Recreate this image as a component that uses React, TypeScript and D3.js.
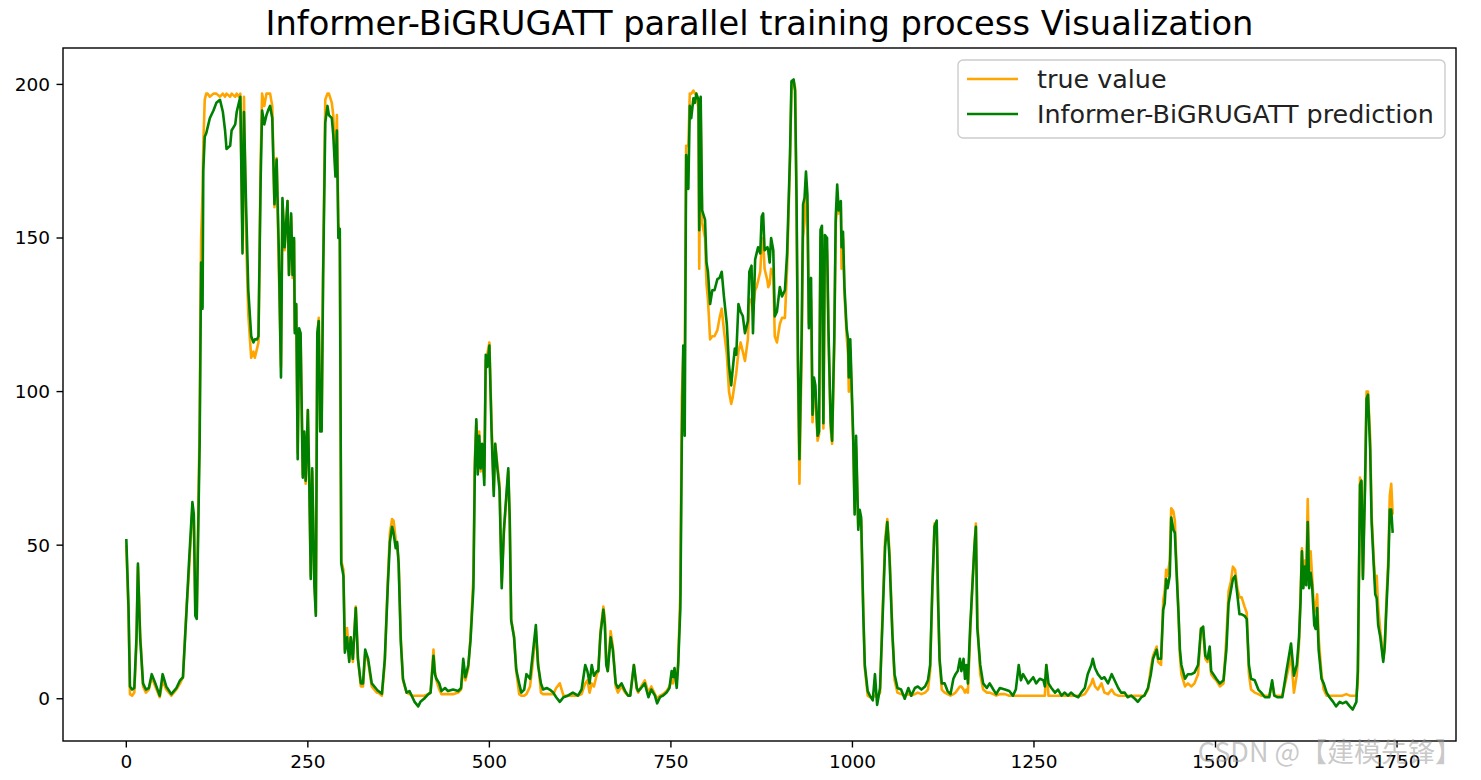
import React from "react";
import * as d3 from "d3";

// ---------- data ----------
const sampleIndex = [
  0, 3, 5, 8, 11, 14, 16, 19, 23, 27,
  31, 35, 40, 46, 50, 55, 62, 69, 74, 78,
  83, 86, 91, 93, 95, 97, 101, 103, 105, 106,
  108, 110, 112, 115, 120, 124, 129, 133, 136, 138,
  143, 145, 150, 152, 155, 157, 160, 162, 165, 168,
  172, 175, 177, 180, 182, 185, 187, 190, 193, 196,
  198, 201, 204, 207, 210, 213, 215, 218, 222, 224,
  227, 229, 231, 232, 234, 236, 238, 240, 243, 245,
  247, 250, 252, 254, 256, 259, 261, 263, 265, 267,
  269, 271, 274, 277, 279, 283, 285, 288, 290, 292,
  294, 296, 299, 301, 304, 307, 309, 312, 316, 319,
  323, 326, 329, 333, 338, 345, 347, 352, 356, 360,
  363, 366, 368, 371, 373, 375, 378, 381, 386, 390,
  394, 397, 402, 405, 410, 416, 419, 423, 425, 427,
  431, 434, 439, 443, 450, 457, 461, 464, 467, 471,
  474, 478, 480, 482, 484, 486, 488, 490, 493, 495,
  497, 500, 503, 506, 508, 511, 514, 517, 520, 526,
  528, 530, 534, 537, 541, 544, 548, 551, 556, 559,
  564, 567, 571, 574, 579, 583, 588, 592, 597, 602,
  608, 615, 622, 627, 632, 635, 638, 641, 644, 648,
  650, 653, 657, 659, 661, 663, 667, 670, 674, 677,
  682, 687, 691, 694, 699, 703, 705, 709, 714, 719,
  723, 728, 731, 735, 739, 744, 748, 751, 753, 755,
  758, 760, 763, 765, 767, 769, 771, 774, 776, 778,
  781, 783, 785, 788, 789, 791, 793, 797, 799, 801,
  804, 807, 810, 814, 817, 820, 823, 827, 830, 833,
  835, 838, 840, 843, 846, 849, 852, 856, 858, 861,
  863, 866, 868, 870, 873, 875, 877, 879, 883, 884,
  886, 888, 891, 893, 896, 900, 903, 907, 910, 914,
  916, 919, 921, 923, 925, 927, 930, 932, 934, 936,
  938, 940, 941, 943, 945, 947, 949, 952, 954, 956,
  958, 960, 962, 965, 967, 970, 972, 975, 977, 979,
  981, 984, 985, 987, 989, 992, 994, 995, 997, 1001,
  1003, 1005, 1008, 1010, 1012, 1015, 1017, 1021, 1024, 1028,
  1031, 1034, 1038, 1041, 1045, 1048, 1051, 1055, 1058, 1062,
  1067, 1072, 1077, 1081, 1086, 1090, 1095, 1100, 1104, 1107,
  1110, 1113, 1116, 1118, 1120, 1123, 1127, 1131, 1135, 1139,
  1142, 1145, 1148, 1150, 1153, 1155, 1157, 1159, 1162, 1165,
  1168, 1170, 1172, 1176, 1180, 1185, 1189, 1194, 1198, 1203,
  1210, 1216, 1221, 1225, 1229, 1232, 1235, 1240, 1242, 1249,
  1253, 1258, 1263, 1265, 1267, 1270, 1274, 1279, 1283, 1288,
  1292, 1297, 1301, 1306, 1311, 1315, 1320, 1324, 1329, 1331,
  1334, 1338, 1343, 1347, 1352, 1357, 1361, 1366, 1370, 1375,
  1379, 1384, 1389, 1393, 1398, 1402, 1407, 1411, 1414, 1419,
  1421, 1425, 1428, 1430, 1432, 1434, 1437, 1439, 1442, 1444,
  1446, 1449, 1451, 1453, 1458, 1462, 1467, 1471, 1476, 1480,
  1483, 1486, 1489, 1492, 1494, 1497, 1501, 1506, 1511, 1515,
  1518, 1521, 1524, 1527, 1530, 1533, 1536, 1540, 1543, 1546,
  1549, 1554, 1559, 1563, 1568, 1574, 1578, 1581, 1585, 1592,
  1597, 1604, 1608, 1612, 1615, 1617, 1619, 1621, 1623, 1625,
  1627, 1629, 1631, 1633, 1636, 1638, 1640, 1642, 1646, 1649,
  1653, 1657, 1662, 1666, 1671, 1675, 1680, 1685, 1689, 1694,
  1696, 1699, 1701, 1703, 1706, 1708, 1710, 1713, 1715, 1718,
  1720, 1722, 1724, 1727, 1729, 1731, 1733, 1735, 1738, 1740,
  1742, 1744,
];

const trueValue = [
  50, 28, 1.5, 1, 2, 18, 43, 22, 4, 2,
  3, 7, 4, 0.5, 6, 3, 1, 3, 5, 7,
  30, 40, 62, 58, 30, 28, 90, 150, 165, 180,
  195, 197, 197, 196, 197, 197, 196, 197, 196, 197,
  196, 197, 196, 197, 196, 197, 150, 196, 150, 125,
  111, 113, 111, 114, 116, 175, 197, 193, 197, 197,
  197, 193, 160, 176, 140, 108, 162, 146, 162, 138,
  157, 137, 149, 120, 128, 80, 120, 118, 73, 86,
  70, 94, 68, 40, 74, 38, 28, 118, 124, 88,
  90, 140, 195, 197, 197, 194, 190, 172, 190, 155,
  150, 45, 42, 16, 23, 13, 20, 12, 30, 13,
  4, 4, 15, 12, 4, 2, 2, 1, 12, 38,
  54, 58.5, 58, 52, 50, 45, 20, 6, 2, 1.5,
  1, 1, 1, 1, 1, 1.5, 2, 16, 9, 6,
  3, 1.5, 1.5, 1.5, 1.5, 2, 3, 10, 6, 10,
  20, 40, 78, 90, 75, 87, 74, 82, 72, 110,
  112, 116, 90, 68, 83, 76, 70, 38, 54, 74,
  58, 26, 20, 9, 1.5, 1, 1, 1.5, 4, 10,
  22, 12, 2, 1.5, 1.5, 1.5, 1.5, 3.5, 5, 1,
  1, 1, 1, 1.5, 5, 6, 2, 5, 4, 8,
  9, 22, 30, 26, 12, 9, 22, 17, 4, 2,
  4, 2, 1, 1, 11, 3, 2, 4, 6, 2,
  4, 1.5, 0, 1, 1.5, 2.5, 4, 6, 5, 8,
  6, 12, 35, 98, 112, 110, 180, 180, 197, 197,
  198, 197, 197, 192, 140, 190, 155, 150, 135, 130,
  117, 118, 118, 120, 124, 127, 120, 112, 100, 96,
  98, 103, 106, 113, 116, 113, 110, 117, 130, 130,
  126, 133, 134, 136, 139, 148, 150, 140, 136, 134,
  135, 140, 138, 118, 116, 122, 124, 124, 140, 175,
  198, 201, 199, 160, 105, 70, 112, 150, 155, 165,
  160, 122, 125, 130, 90, 100, 98, 84, 86, 150,
  152, 88, 145, 146, 118, 88, 83, 115, 155, 160,
  158, 160, 140, 150, 132, 118, 112, 100, 114, 84,
  62, 82, 56, 60, 58, 28, 10, 1, 0.5, 0.5,
  1, 0.5, 2, 25, 52, 58.5, 48, 22, 6, 2,
  1.5, 1, 1.5, 1, 1.5, 2, 1.5, 2, 3, 9,
  35, 57, 57, 30, 12, 3, 2, 1.5, 1, 1.5,
  2, 3, 4, 4, 3, 2, 3, 2, 20, 36,
  50, 57, 25, 8, 3, 2, 2, 1.5, 1, 1.5,
  1.5, 1, 1, 1, 1, 1, 1, 1, 1, 1,
  1, 1, 1, 1, 11, 1, 1, 1, 1, 1,
  1, 1, 1, 1, 1, 1, 1.5, 3, 5, 6.5,
  4, 3, 5, 2, 1.5, 3, 1.5, 1, 1, 1,
  1, 1, 1, 1, 1, 1, 3, 10, 14, 17,
  12, 11, 32, 35, 42, 40, 45, 62, 61, 58,
  45, 28, 14, 8, 4, 5, 4, 5, 8, 23,
  22, 13, 12, 16, 8, 7, 6, 4, 5, 20,
  35, 38, 43, 42, 36, 33, 33, 30, 28, 8,
  3, 2, 1.5, 1, 1, 1, 5, 1, 1, 1,
  6, 14, 2, 8, 18, 33, 49, 38, 45, 40,
  65, 42, 48, 40, 28, 30, 34, 20, 8, 3,
  1, 1, 1, 1, 1, 1, 1.5, 1, 1, 1,
  5, 72, 70, 40, 72, 100, 100, 85, 60, 45,
  38, 40, 30, 22, 18, 13, 16, 30, 46, 66,
  70, 60,
];

const prediction = [
  52, 30, 4, 3, 3.5, 20, 44, 20, 5, 3,
  3.5, 8, 5, 1, 8, 4, 1.5, 3.5, 6, 7,
  29, 43, 64, 60, 27, 26, 83, 142, 127, 172,
  183, 184, 186, 189, 191.5, 194, 195, 191, 185, 179,
  180, 185, 187, 191, 194, 196, 145, 191, 160, 133,
  118, 116, 117, 117, 118, 169, 191.5, 187, 190, 192,
  193, 189, 161, 175.5, 146, 104.6, 163, 147, 162, 138,
  158, 138, 150, 119, 128.5, 78, 120.6, 119, 72, 87,
  71, 94, 70, 39, 75, 37, 27, 119, 123, 87,
  87, 136.6, 187.6, 193, 190, 189, 183.5, 170, 185, 150,
  153, 44, 40, 15, 20, 12, 20, 13, 29.5, 13,
  5, 5, 16, 13, 5, 3, 2.5, 1.6, 13, 36,
  51, 56, 54, 49, 51, 44, 18.6, 6.5, 2, 2.5,
  0.5, -1, -2.5, -1, 0, 1.5, 2, 14, 8, 6.5,
  5, 2.5, 3.5, 2.5, 3, 2.5, 3.5, 13, 7, 11,
  19, 36, 75, 91, 73, 85.6, 75, 83, 69.6, 112,
  108, 115, 87, 66, 83, 75, 68, 36, 55, 75,
  59, 25.5, 20, 9.5, 5, 2, 3, 8, 6.5, 13,
  24, 11, 5, 3, 3.5, 3, 2, 0.5, -1, 0.5,
  1, 2, 1, 3, 11, 9, 5, 11, 7.5, 9,
  9, 21, 29, 24, 11, 9, 20, 16, 5, 3.5,
  5, 2.5, 1, 1, 11, 3.5, 2.5, 3.5, 5, 0.5,
  3, 1, -1.5, 0.5, 1, 2, 3.5, 9, 7, 10,
  3.5, 11, 29.5, 83, 115, 85.6, 177, 166, 193, 189,
  195.5, 194, 197, 195, 152.5, 196, 159, 156, 142, 139,
  128.5, 133, 133, 136.6, 137, 139, 131, 122, 108.5, 102,
  107, 114, 112, 128.5, 126, 124.6, 119, 123, 139, 141,
  119, 143, 145, 147, 145, 157, 158, 146, 147, 146,
  142, 150, 146, 124.5, 126, 134, 131, 133, 145, 177,
  201, 201.6, 198, 163, 110, 78, 118, 161, 163, 171.6,
  164, 120.6, 135, 137, 92.5, 104.6, 102, 85.6, 87, 152.6,
  154, 89.7, 151, 150, 120, 90, 84, 118, 157, 167.4,
  159, 162, 147, 152, 134, 120.6, 117, 104.6, 117, 85.6,
  60, 85.6, 55, 61.5, 59, 27, 11, 2.5, 1, -0.5,
  8, -2, 3.5, 22.7, 49.5, 57.5, 46, 21, 8, 3.5,
  3, 0, 3.5, 1, 3.5, 4, 3, 4, 6, 11,
  36, 56, 58, 32, 13, 5, 5, 2.5, 1.5, 6.5,
  8, 9, 13, 9, 13, 6.5, 11, 5, 22.7, 36,
  49.5, 56, 23, 11, 5, 3.5, 5, 3, 1.5, 3.5,
  3, 2.5, 1, 3, 11, 6, 8, 6, 5, 7,
  5, 6.5, 6, 4, 11, 5, 3.5, 2, 3, 1,
  2, 1, 2, 1, 0.5, 2, 3.5, 8, 11, 13,
  10, 8, 6.5, 7, 5, 8, 6, 3.5, 2, 2,
  0.5, 1, 0, -1, 0.5, 1, 3.5, 8, 13, 16,
  13, 13, 29, 31, 39, 36, 40, 59, 55, 54,
  43, 28, 16, 11, 6.5, 8, 8, 8.5, 11, 22.7,
  23.5, 14, 13, 17, 9, 8, 6.5, 5, 6, 16,
  31, 35, 39, 40, 34, 27.5, 27.5, 27, 26, 11,
  6.5, 6, 3, 2, 0.5, 0.5, 6, 1, 0.5, 0.5,
  8, 18, 7.5, 11, 20, 31, 48, 36, 43, 37,
  57.5, 36, 41, 37, 24, 22.7, 29.5, 16, 6.5, 5,
  2, 0.5, -1, -2.5, -1, -1.5, -1, -2.5, -3.5, -1,
  9, 69.6, 71, 39, 69.6, 97.7, 99, 81, 57.5, 43,
  34, 32.7, 24, 20, 16, 12, 17, 27.5, 43, 61.6,
  61.6, 54,
];

const xTicks = [0, 250, 500, 750, 1000, 1250, 1500, 1750];
const yTicks = [0, 50, 100, 150, 200];
const seriesNames = ["true value", "Informer-BiGRUGATT prediction"];
const seriesColors = ["orange", "green"];
const titleText = "Informer-BiGRUGATT parallel training process Visualization";
const watermarkText = "CSDN @【建模先锋】";

// ---------- layout ----------
const W = 1481;
const H = 780;
const AX = { left: 63, right: 1456, top: 48, bottom: 741 };
const FONT = "'DejaVu Sans', sans-serif";
const TICK_FS = 18.5;
const LEGEND_FS = 25.4;

export default function App() {
  const [xmin, xmax] = d3.extent(sampleIndex) as [number, number];
  const xPad = (xmax - xmin) * 0.05;
  const x = d3.scaleLinear().domain([xmin - xPad, xmax + xPad]).range([AX.left, AX.right]);

  const allVals = trueValue.concat(prediction);
  const [ymin, ymax] = d3.extent(allVals) as [number, number];
  const yPad = (ymax - ymin) * 0.05;
  const y = d3.scaleLinear().domain([ymin - yPad, ymax + yPad]).range([AX.bottom, AX.top]);

  const mkLine = (vals: number[]) =>
    d3
      .line<number>()
      .x((_, i) => x(sampleIndex[i]))
      .y((d) => y(d))(vals) as string;

  const series = [trueValue, prediction];

  const lgX = 958;
  const lgY = 60;
  const lgW = 487;
  const lgH = 78;

  return (
    <svg
      width={W}
      height={H}
      style={{ position: "absolute", left: 0, top: 0, background: "#fff" }}
      fontFamily={FONT}
    >
      <rect x={0} y={0} width={W} height={H} fill="#fff" />
      <defs>
        <clipPath id="plotclip">
          <rect x={AX.left} y={AX.top} width={AX.right - AX.left} height={AX.bottom - AX.top} />
        </clipPath>
      </defs>

      {/* title */}
      <text x={(AX.left + AX.right) / 2} y={35} textAnchor="middle" fontSize={33.7} fill="#000">
        {titleText}
      </text>

      {/* lines */}
      <g clipPath="url(#plotclip)">
        {series.map((vals, k) => (
          <path
            key={k}
            d={mkLine(vals)}
            fill="none"
            stroke={seriesColors[k]}
            strokeWidth={2.6}
            strokeLinejoin="round"
          />
        ))}
      </g>

      {/* axes frame */}
      <rect
        x={AX.left}
        y={AX.top}
        width={AX.right - AX.left}
        height={AX.bottom - AX.top}
        fill="none"
        stroke="#000"
        strokeWidth={1.4}
      />

      {/* x ticks */}
      {xTicks.map((t) => (
        <g key={"x" + t}>
          <line x1={x(t)} x2={x(t)} y1={AX.bottom} y2={AX.bottom + 6.5} stroke="#000" strokeWidth={1.4} />
          <text x={x(t)} y={AX.bottom + 27} textAnchor="middle" fontSize={TICK_FS} fill="#000">
            {t}
          </text>
        </g>
      ))}

      {/* y ticks */}
      {yTicks.map((t) => (
        <g key={"y" + t}>
          <line x1={AX.left - 6.5} x2={AX.left} y1={y(t)} y2={y(t)} stroke="#000" strokeWidth={1.4} />
          <text x={AX.left - 13} y={y(t) + 6.5} textAnchor="end" fontSize={TICK_FS} fill="#000">
            {t}
          </text>
        </g>
      ))}

      {/* legend */}
      <rect
        x={lgX}
        y={lgY}
        width={lgW}
        height={lgH}
        rx={5}
        ry={5}
        fill="#fff"
        fillOpacity={0.8}
        stroke="#cccccc"
        strokeWidth={1.4}
      />
      {seriesNames.map((name, k) => {
        const cy = lgY + 19 + k * 35;
        return (
          <g key={name}>
            <line x1={lgX + 9} x2={lgX + 60} y1={cy} y2={cy} stroke={seriesColors[k]} strokeWidth={2.6} />
            <text x={lgX + 79} y={cy + 8.5} fontSize={LEGEND_FS} fill="#222">
              {name}
            </text>
          </g>
        );
      })}

      {/* watermark (overlaps the last tick labels, as in the reference) */}
      <text
        x={1462}
        y={762}
        textAnchor="end"
        fontSize={27}
        fontFamily="'Noto Sans CJK SC', 'DejaVu Sans', sans-serif"
        fill="#9a9a9a"
        fillOpacity={0.55}
      >
        {watermarkText}
      </text>
    </svg>
  );
}
